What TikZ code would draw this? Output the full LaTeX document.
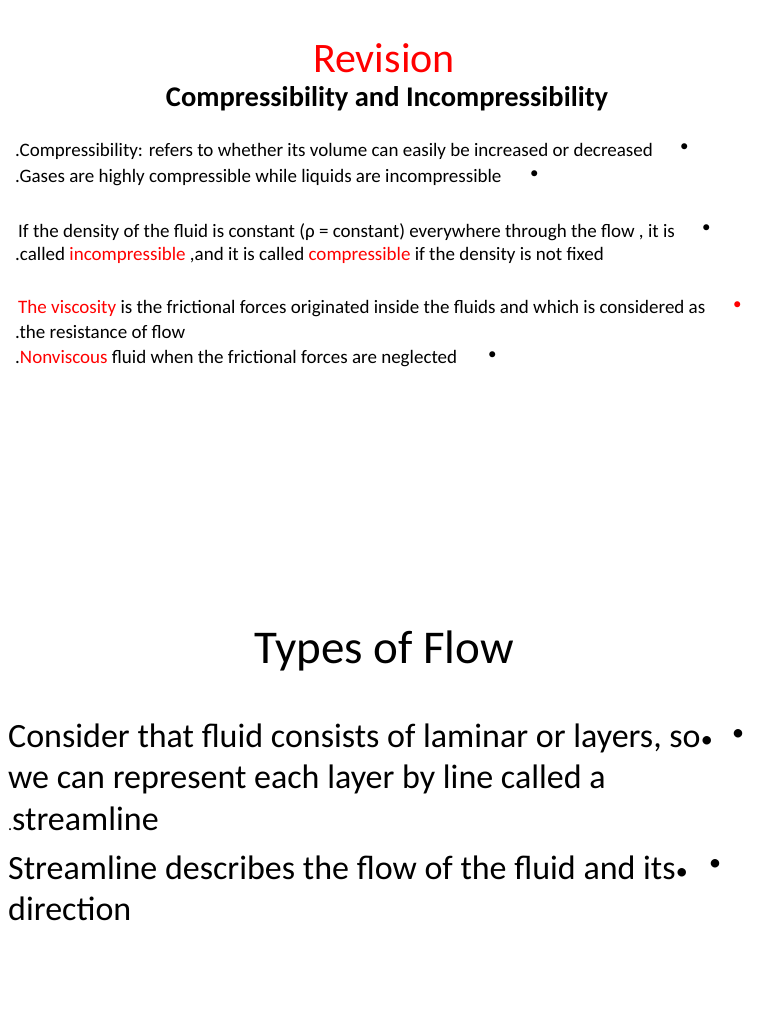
\documentclass[tikz,border=0pt]{standalone}
\usepackage{fontspec}
\setmainfont{Carlito}
\definecolor{rd}{RGB}{255,0,0}
\begin{document}
\begin{tikzpicture}[x=1pt,y=-1pt,
  t/.style={anchor=west,inner sep=0pt,font=\fontsize{19}{21}\selectfont},
  bl/.style={anchor=west,inner sep=0pt,font=\fontsize{17}{19}\selectfont},
  b/.style={anchor=west,inner sep=0pt,font=\fontsize{34}{38}\selectfont}]
\useasboundingbox[fill=white] (0,0) rectangle (768,1024);
\node[inner sep=0pt,text=rd,font=\fontsize{42}{46}\selectfont] (title) at (384,58) {Revision};
\node[inner sep=0pt,font=\fontsize{28.5}{32}\selectfont\bfseries] (sub) at (387,99) {Compressibility and Incompressibility};
\node[t] (l1) at (15,151) {.Compressibility: refers to whether its volume can easily be increased or decreased};
\node[bl] (b1) at (680,148) {•};
\node[t] (l2) at (15,178) {.Gases are highly compressible while liquids are incompressible};
\node[bl] (b2) at (530,175) {•};
\node[t] (l3) at (18,232) {If the density of the fluid is constant (ρ = constant) everywhere through the flow , it is};
\node[bl] (b3) at (702,229) {•};
\node[t] (l4) at (15,255) {.called \textcolor{rd}{incompressible} ,and it is called \textcolor{rd}{compressible} if the density is not fixed};
\node[t] (l5) at (18,309) {\textcolor{rd}{The viscosity} is the frictional forces originated inside the fluids and which is considered as};
\node[bl,text=rd] (b5) at (733,306) {•};
\node[t] (l6) at (15,332) {.the resistance of flow};
\node[t] (l7) at (15,359) {.\textcolor{rd}{Nonviscous} fluid when the frictional forces are neglected};
\node[bl] (b7) at (488,356) {•};
\node[inner sep=0pt,font=\fontsize{47}{50}\selectfont] (types) at (384,651) {Types of Flow};
\node[b] (m1) at (8,738) {Consider that fluid consists of laminar or layers, so{\fontsize{24}{26}\selectfont •}};
\node[b] (mb1) at (732,735) {\fontsize{24}{26}\selectfont •};
\node[b] (m2) at (8,779) {we can represent each layer by line called a};
\node[b] (m3) at (8,819) {{\fontsize{16}{18}\selectfont .}streamline};
\node[b] (m4) at (8,868) {Streamline describes the flow of the fluid and its{\fontsize{24}{26}\selectfont •}};
\node[b] (mb4) at (709,865) {\fontsize{24}{26}\selectfont •};
\node[b] (m5) at (8,909) {direction};
\end{tikzpicture}
\end{document}
